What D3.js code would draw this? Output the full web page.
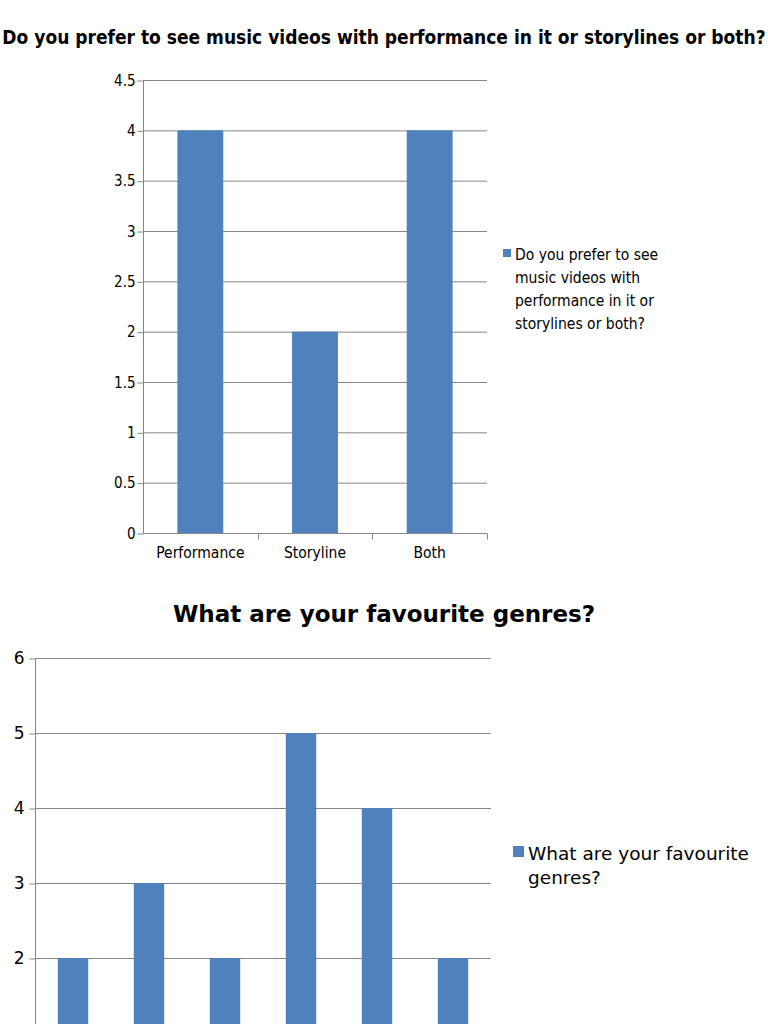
<!DOCTYPE html>
<html>
<head>
<meta charset="utf-8">
<script src="https://cdn.jsdelivr.net/npm/d3@7"></script>
<style>
  body { margin: 0; background: #fff; }
  svg { display: block; }
</style>
</head>
<body>
<script>
// chart 1 data
var prefCategories = ["Performance", "Storyline", "Both"]
var prefValues = [4, 2, 4]
var prefTicks = [0, 0.5, 1, 1.5, 2, 2.5, 3, 3.5, 4, 4.5]
var prefTitle = "Do you prefer to see music videos with performance in it or storylines or both?"

// chart 2 data (the lower part of this chart is below the page edge)
var genreCategories = ["Genre 1", "Genre 2", "Genre 3", "Genre 4", "Genre 5", "Genre 6"]
var genreValues = [2, 3, 2, 5, 4, 2]
var genreTicks = [2, 3, 4, 5, 6]
var genreTitle = "What are your favourite genres?"

var barColor = "#4f81bd"
var gridColor = "#868686"

var svg = d3.select("body").append("svg")
    .attr("width", 768)
    .attr("height", 1024)

function barChart(opt) {
    var g = svg.append("g")

    var x = d3.scaleBand()
        .domain(opt.categories)
        .range([opt.left, opt.right])
        .paddingInner(0.6)
        .paddingOuter(0.3)
    var xb = d3.scaleBand()
        .domain(opt.categories)
        .range([opt.left, opt.right])
    var y = d3.scaleLinear()
        .domain([0, opt.max])
        .range([opt.bottom, opt.top])

    // gridlines
    g.selectAll(".grid")
        .data(opt.ticks.filter(function (d) { return d > 0 }))
        .enter()
        .append("line")
        .attr("x1", opt.left)
        .attr("x2", opt.right)
        .attr("y1", function (d) { return y(d) + 0.5 })
        .attr("y2", function (d) { return y(d) + 0.5 })
        .style("stroke", gridColor)
        .style("stroke-width", 1)

    // bars
    g.selectAll(".bar")
        .data(opt.values)
        .enter()
        .append("rect")
        .attr("x", function (d, i) { return x(opt.categories[i]) })
        .attr("y", function (d) { return y(d) })
        .attr("width", x.bandwidth())
        .attr("height", function (d) { return y(0) - y(d) })
        .attr("fill", barColor)

    // y axis
    var yAxis = d3.axisLeft(y)
        .tickValues(opt.ticks)
        .tickSize(6)
        .tickPadding(opt.yPad)
        .tickFormat(function (d) { return d })
    var ya = g.append("g")
        .attr("transform", "translate(" + (opt.left + 0.5) + ",0.5)")
        .call(yAxis)
    ya.select(".domain").attr("stroke", gridColor).attr("d", "M0," + (opt.top - 0.5) + "V" + (opt.bottom))
    ya.selectAll(".tick line").attr("stroke", gridColor)
    ya.selectAll("text")
        .style("font-family", opt.font)
        .style("font-size", opt.tickSize + "px")
        .attr("fill", "#000")

    // x axis with ticks at category boundaries
    if (opt.xLabels) {
        var xa = g.append("g")
            .attr("transform", "translate(0," + (opt.bottom + 0.5) + ")")
        xa.append("line")
            .attr("x1", opt.left)
            .attr("x2", opt.right)
            .style("stroke", gridColor)
        var edges = opt.categories.map(function (c) { return xb(c) + xb.bandwidth() })
        xa.selectAll(".xt")
            .data(edges)
            .enter()
            .append("line")
            .attr("x1", function (d) { return Math.round(d) + 0.5 })
            .attr("x2", function (d) { return Math.round(d) + 0.5 })
            .attr("y1", 0)
            .attr("y2", 6)
            .style("stroke", gridColor)
        xa.selectAll(".xl")
            .data(opt.categories)
            .enter()
            .append("text")
            .attr("x", function (d) { return xb(d) + xb.bandwidth() / 2 })
            .attr("y", 24)
            .attr("text-anchor", "middle")
            .style("font-family", opt.font)
            .style("font-size", opt.xSize + "px")
            .text(function (d) { return d })
    }

    // title
    g.append("text")
        .attr("x", 384)
        .attr("y", opt.titleY)
        .attr("text-anchor", "middle")
        .style("font-family", opt.font)
        .style("font-weight", "bold")
        .style("font-size", opt.titleSize + "px")
        .text(opt.title)

    // legend
    var lg = g.append("g")
        .attr("transform", "translate(" + opt.legendX + "," + opt.legendY + ")")
    lg.append("rect")
        .attr("x", 0)
        .attr("y", -opt.legendSq - 1)
        .attr("width", opt.legendSq)
        .attr("height", opt.legendSq)
        .attr("fill", barColor)
    lg.selectAll("text")
        .data(opt.legendLines)
        .enter()
        .append("text")
        .attr("x", opt.legendSq + 4)
        .attr("y", function (d, i) { return i * opt.legendLh + 2 })
        .style("font-family", opt.font)
        .style("font-size", opt.legendSize + "px")
        .text(function (d) { return d })
}

barChart({
    categories: prefCategories, values: prefValues, ticks: prefTicks, max: 4.5,
    left: 143, right: 487, top: 80, bottom: 533,
    font: "'DejaVu Sans Condensed', 'DejaVu Sans', sans-serif",
    tickSize: 15, yPad: 2, xLabels: true, xSize: 15.5,
    title: prefTitle, titleY: 44, titleSize: 19,
    legendX: 503, legendY: 258, legendSq: 8, legendLh: 23, legendSize: 15.5,
    legendLines: ["Do you prefer to see", "music videos with", "performance in it or", "storylines or both?"]
})

barChart({
    categories: genreCategories, values: genreValues, ticks: genreTicks, max: 6,
    left: 35, right: 491, top: 658, bottom: 1108,
    font: "'DejaVu Sans', sans-serif",
    tickSize: 17, yPad: 5, xLabels: false,
    title: genreTitle, titleY: 622, titleSize: 23,
    legendX: 513, legendY: 858, legendSq: 11, legendLh: 24, legendSize: 18.5,
    legendLines: ["What are your favourite", "genres?"]
})
</script>
</body>
</html>
